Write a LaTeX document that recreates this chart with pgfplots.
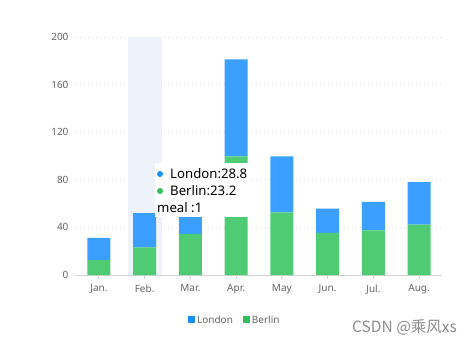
\documentclass[border=0pt]{standalone}
\usepackage{pgfplots}
\pgfplotsset{compat=1.18}
\usepackage{fontspec}
\setmainfont{Noto Sans}
\newfontfamily\cjk{Noto Sans CJK SC}
\definecolor{barblue}{RGB}{58,159,255}
\definecolor{bargreen}{RGB}{78,203,115}
\definecolor{legblue}{RGB}{24,144,255}
\definecolor{leggreen}{RGB}{47,194,91}
\definecolor{bandcol}{RGB}{237,242,251}
\definecolor{axisgray}{RGB}{210,210,210}
\definecolor{gridgray}{RGB}{222,222,222}
\definecolor{labelgray}{RGB}{100,100,100}
\definecolor{wmgray}{RGB}{140,140,140}
\pgfplotsset{common/.style={
  at={(0,0)}, anchor=south west,
  scale only axis, width=366pt, height=238pt,
  xmin=-0.5, xmax=7.5, ymin=0, ymax=200}}
\begin{document}
\begin{tikzpicture}
\useasboundingbox (-76pt,-68pt) rectangle (398pt,275pt);
% background axis: grid, ticks, hover band
\begin{axis}[common,
  ybar, bar width=0.744,
  xtick={0,...,7}, xticklabels={Jan.,Feb.,Mar.,Apr.,May,Jun.,Jul.,Aug.},
  ytick={0,40,...,200},
  axis x line*=bottom, axis y line*=left,
  y axis line style={draw=none},
  x axis line style={draw=none},
  ymajorgrids, grid style={draw=gridgray, dash pattern=on 1.2pt off 2.8pt, line width=0.8pt},
  xtick style={draw=axisgray, line width=0.8pt}, ytick style={draw=none},
  tick align=outside, major tick length=4pt,
  ticklabel style={font=\fontsize{10}{12}\selectfont, text=labelgray},
  xticklabel style={yshift=-2pt},
  /pgf/number format/assume math mode=true,
]
\addplot[fill=bandcol, draw=none] coordinates {(1,200)};
\end{axis}
% bars
\begin{axis}[common,
  ybar stacked, bar width=0.5,
  axis x line*=bottom, axis y line=none,
  x axis line style={draw=axisgray, line width=0.8pt},
  xtick=\empty, ytick=\empty,
  reverse legend,
  legend style={at={(0.434,-0.189)}, anchor=center, draw=none, fill=none,
    legend columns=2, font=\fontsize{10}{12}\selectfont, text=labelgray,
    /tikz/every even column/.append style={column sep=8pt}},
  legend cell align=left,
]
\addplot[fill=bargreen, draw=none,
  legend image code/.code={\fill[leggreen] (0pt,-3.5pt) rectangle (7pt,3.5pt);}]
  coordinates {(0,12.4) (1,23.2) (2,34.5) (3,99.7) (4,52.6) (5,35.5) (6,37.4) (7,42.4)};
\addplot[fill=barblue, draw=none,
  legend image code/.code={\fill[legblue] (0pt,-3.5pt) rectangle (7pt,3.5pt);}]
  coordinates {(0,18.9) (1,28.8) (2,39.3) (3,81.4) (4,47) (5,20.3) (6,24) (7,35.6)};
\legend{Berlin, London}
\end{axis}
% tooltip
\fill[white] (79pt,58pt) rectangle (174pt,112pt);
\fill[legblue] (84pt,101pt) circle[radius=3pt];
\fill[leggreen] (84pt,84pt) circle[radius=3pt];
\node[anchor=west, inner sep=0, font=\fontsize{13.2}{15}\selectfont] at (94pt,101pt) {London:28.8};
\node[anchor=west, inner sep=0, font=\fontsize{13.2}{15}\selectfont] at (94pt,84pt) {Berlin:23.2};
\node[anchor=west, inner sep=0, font=\fontsize{13.2}{15}\selectfont] at (81pt,67pt) {meal :1};
\node[anchor=west, inner sep=0, font=\cjk\fontsize{15.5}{17}\selectfont, text=wmgray] at (276pt,-52pt) {CSDN @乘风xs};
\end{tikzpicture}
\end{document}
